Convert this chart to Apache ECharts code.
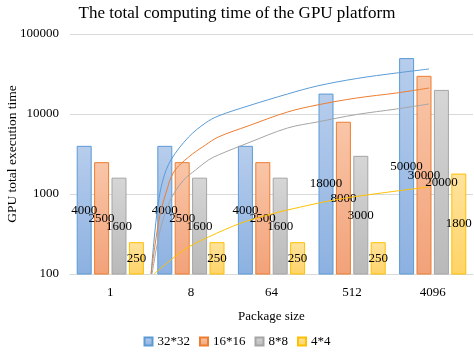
<!DOCTYPE html>
<html>
<head>
<meta charset="utf-8">
<script src="https://cdn.jsdelivr.net/npm/echarts@6/dist/echarts.min.js"></script>
<style>
html,body{margin:0;padding:0;background:#fff;}
#chart{width:474px;height:355px;}
</style>
</head>
<body>
<div id="chart"></div>
<script>
// ---- data ----
var categories = ['1', '8', '64', '512', '4096'];
var seriesNames = ['32*32', '16*16', '8*8', '4*4'];
var s32 = [4000, 4000, 4000, 18000, 50000];
var s16 = [2500, 2500, 2500, 8000, 30000];
var s8  = [1600, 1600, 1600, 3000, 20000];
var s4  = [250, 250, 250, 250, 1800];
var yTicks = [100, 1000, 10000, 100000];

// trendline curves: [category position, value]
var trend32 = [[1.506,100],[1.543,266],[1.592,729],[1.653,1496],[1.752,2661],[1.972,5158],[2.181,7718],[2.340,9441],[2.708,12590],[3.199,17780],[3.567,22390],[4.058,27780],[4.549,32540],[4.954,36520]];
var trend16 = [[1.506,100],[1.555,230],[1.616,546],[1.690,1029],[1.788,1884],[1.972,2900],[2.181,4097],[2.340,5158],[2.708,7079],[3.199,10590],[3.567,12960],[4.058,15850],[4.549,18300],[4.954,21130]];
var trend8  = [[1.518,100],[1.580,230],[1.653,473],[1.764,917],[1.911,1496],[2.058,1995],[2.218,2661],[2.340,3073],[2.708,4340],[3.199,6683],[3.567,7943],[4.058,9860],[4.549,11550],[4.954,13340]];
var trend4  = [[1.543,100],[1.764,154],[1.972,217],[2.218,290],[2.623,434],[2.954,546],[3.199,631],[3.776,841],[4.365,1029],[4.954,1223]];

var FONT = '"Liberation Serif", "Times New Roman", serif';
var styles = [
  {top:'#b7cdec', bottom:'#8cb1e1', border:'#5b9bd5', line:'#5b9bd5'},
  {top:'#f9c6a8', bottom:'#f2a279', border:'#ed7d31', line:'#ed7d31'},
  {top:'#d6d6d6', bottom:'#b9b9b9', border:'#a5a5a5', line:'#a5a5a5'},
  {top:'#ffe39e', bottom:'#ffd366', border:'#ffc000', line:'#ffc000'}
];
var barData = [s32, s16, s8, s4];
var trendData = [trend32, trend16, trend8, trend4];

var series = [];
barData.forEach(function(d, i){
  var st = styles[i];
  series.push({
    name: seriesNames[i],
    type: 'bar',
    data: d,
    barWidth: 15,
    barGap: '16%',
    itemStyle: {
      color: new echarts.graphic.LinearGradient(0,0,0,1,[{offset:0,color:st.top},{offset:1,color:st.bottom}]),
      borderColor: st.border,
      borderWidth: 1
    },
    label: {
      show: true,
      position: 'inside',
      color: '#000',
      fontFamily: FONT,
      fontSize: 13
    },
    z: 2
  });
});
trendData.forEach(function(d, i){
  series.push({
    name: 'trend ' + seriesNames[i],
    type: 'line',
    xAxisIndex: 1,
    data: d,
    smooth: 0.35,
    symbol: 'none',
    silent: true,
    lineStyle: {color: styles[i].line, width: 1},
    z: 3
  });
});

var chart = echarts.init(document.getElementById('chart'), null, {renderer:'canvas'});
chart.setOption({
  animation: false,
  backgroundColor: '#fff',
  title: {
    text: 'The total computing time of the GPU platform',
    left: 'center',
    top: 0,
    textStyle: {fontFamily: FONT, fontSize: 17, fontWeight: 'normal', color: '#000'}
  },
  legend: {
    data: seriesNames,
    bottom: 2,
    left: 'center',
    icon: 'rect',
    itemWidth: 8,
    itemHeight: 8,
    itemGap: 9,
    textStyle: {fontFamily: FONT, fontSize: 13, color: '#000'}
  },
  grid: {left: 70, right: 1, top: 34, bottom: 81, containLabel: false, outerBoundsMode: 'none'},
  xAxis: [{
    type: 'category',
    data: categories,
    name: 'Package size',
    nameLocation: 'middle',
    nameGap: 36,
    nameMoveOverlap: false,
    nameTextStyle: {fontFamily: FONT, fontSize: 13, color: '#000'},
    axisLine: {lineStyle: {color: '#d9d9d9'}},
    axisTick: {show: false},
    axisLabel: {fontFamily: FONT, fontSize: 13, color: '#000', margin: 12}
  }, {
    type: 'value',
    min: 0.5,
    max: 5.5,
    show: false
  }],
  yAxis: {
    type: 'log',
    logBase: 10,
    min: yTicks[0],
    max: yTicks[yTicks.length-1],
    name: 'GPU total execution time',
    nameLocation: 'middle',
    nameGap: 51,
    nameMoveOverlap: false,
    nameTextStyle: {fontFamily: FONT, fontSize: 13.5, color: '#000'},
    axisLine: {show: false},
    axisTick: {show: false},
    splitLine: {lineStyle: {color: '#d9d9d9'}},
    axisLabel: {fontFamily: FONT, fontSize: 13, color: '#000', margin: 11,
      formatter: function(v){ return String(Math.round(v)); }}
  },
  series: series
});
</script>
</body>
</html>
